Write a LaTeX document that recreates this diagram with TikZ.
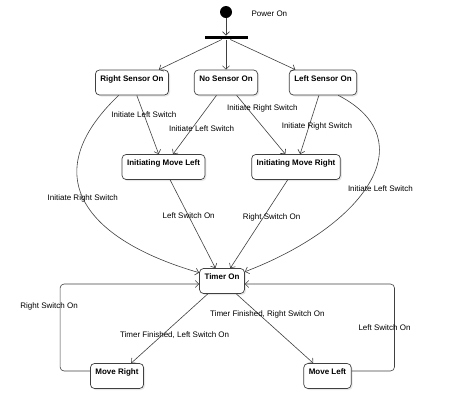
\documentclass[tikz,border=0pt]{standalone}
\usepackage{fontspec}
\setmainfont{Liberation Sans}
\usepackage{xcolor}
\usetikzlibrary{arrows.meta,positioning,shadows}
\definecolor{lineGray}{RGB}{64,64,64}

\begin{document}
\begin{tikzpicture}[node distance=2.5cm,on grid,>={Straight Barb[length=3.5pt,width=7pt]},
    every node/.style={font=\fontsize{8}{9.6}\selectfont}]
	\tikzstyle{state}=[draw=lineGray,rounded corners=4pt,line width=0.7pt,fill=white,
	    font=\fontsize{8}{9.6}\selectfont\bfseries,inner xsep=5pt,inner ysep=5pt,
	    text height=6pt,text depth=9pt,
	    drop shadow={opacity=0.18,shadow xshift=1.5pt,shadow yshift=-1.5pt}]
	\tikzstyle{start}=[circle,fill=black,minimum size=12pt,inner sep=0pt]
	\tikzstyle{fork}=[rectangle,fill=black,minimum width=43pt,minimum height=3.6pt,inner sep=0pt]
	\tikzstyle{trans}=[draw=lineGray,line width=0.6pt]

	\useasboundingbox (0,0) rectangle (474pt,-413pt);

	\node[fork]  (fork)        at (226pt,-37.5pt)                    {};
	\node[start] (init)        [above=25.5pt of fork]                {};
	\node[state] (noSensor)    [below=45pt of fork]                  {No Sensor On};
	\node[state] (rightSensor) [left=94pt of noSensor]               {Right Sensor On};
	\node[state] (leftSensor)  [right=97pt of noSensor]              {Left Sensor On};
	\node[state] (initLeft)    [below left=84.5pt and 62.5pt of noSensor] {Initiating Move Left};
	\node[state] (initRight)   [below right=84.5pt and 70pt of noSensor]  {Initiating Move Right};
	\node[state] (timer)       [below left=198.5pt and 4pt of noSensor]   {Timer On};
	\node[state] (moveRight)   [below left=95pt and 105pt of timer]       {Move Right};
	\node[state] (moveLeft)    [below right=95pt and 105.5pt of timer]    {Move Left};

	\path[->,trans]
	(init)        edge node[pos=0,anchor=west,xshift=22pt,yshift=4pt] {Power On} (fork)
	(fork)        edge (rightSensor)
	              edge (noSensor)
	              edge (leftSensor)
	(rightSensor) edge node[pos=0.32]            {Initiate Left Switch}  (initLeft)
	(noSensor)    edge node[pos=0.57,xshift=10pt] {Initiate Left Switch}  (initLeft)
	              edge node[pos=0.22,xshift=15pt] {Initiate Right Switch} (initRight)
	(leftSensor)  edge node[pos=0.53,xshift=8pt]  {Initiate Right Switch} (initRight)
	(initLeft)    edge node[pos=0.41]            {Left Switch On}        (timer)
	(initRight)   edge node[pos=0.42,xshift=8pt]  {Right Switch On}       (timer)
	(timer)       edge node[pos=0.59,xshift=12pt] {Timer Finished, Left Switch On}  (moveRight)
	              edge node[pos=0.30,xshift=8pt]  {Timer Finished, Right Switch On} (moveLeft);

	% long curved transitions
	\draw[->,trans] (rightSensor.224) .. controls +(-84pt,-80pt) and +(-114pt,33pt) .. (timer.160)
	    node[pos=0.48] {Initiate Right Switch};
	\draw[->,trans] (leftSensor.320) .. controls +(87pt,-45pt) and +(120pt,46pt) .. (timer.22)
	    node[pos=0.53,xshift=15pt] {Initiate Left Switch};

	% back to timer
	\draw[->,trans,rounded corners=4pt] ([yshift=5pt]moveRight.west) -- ++(-30pt,0pt) |- ([yshift=-3pt]timer.west)
	    node[pos=0.37,xshift=-11pt] {Right Switch On};
	\draw[->,trans,rounded corners=4pt] ([yshift=5pt]moveLeft.east) -- ++(43pt,0pt) |- ([yshift=-3pt]timer.east)
	    node[pos=0.25,xshift=-10pt] {Left Switch On};
\end{tikzpicture}
\end{document}
